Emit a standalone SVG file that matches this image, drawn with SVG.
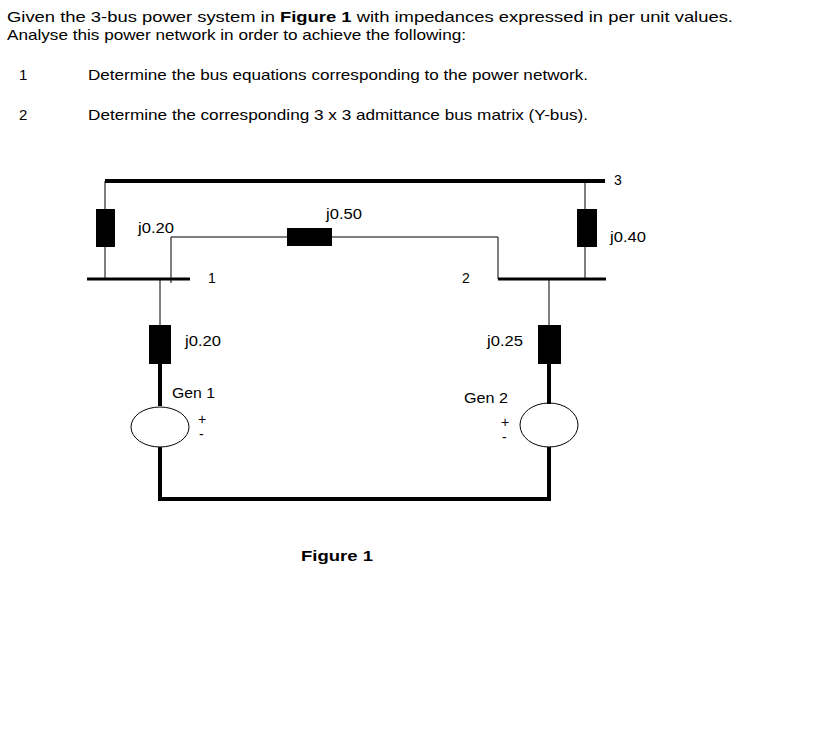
<svg xmlns="http://www.w3.org/2000/svg" width="813" height="738" viewBox="0 0 813 738">
<style>
text{font-family:"Liberation Sans",Arial,sans-serif;font-size:15px;fill:#000}
.s{font-size:14px}
.t{stroke:#000;stroke-width:1;fill:none}
.k{stroke:#000;stroke-width:4;fill:none}
.b{stroke:#000;stroke-width:3;fill:none}
.r{fill:#000}
</style>
<rect width="813" height="738" fill="#fff"/>
<text x="7" y="22" textLength="726" lengthAdjust="spacingAndGlyphs">Given the 3-bus power system in <tspan font-weight="bold">Figure 1</tspan> with impedances expressed in per unit values.</text>
<text x="7" y="40" textLength="459" lengthAdjust="spacingAndGlyphs">Analyse this power network in order to achieve the following:</text>
<text x="19" y="80">1</text><text x="88" y="80" textLength="500" lengthAdjust="spacingAndGlyphs">Determine the bus equations corresponding to the power network.</text>
<text x="19" y="120">2</text><text x="88" y="120" textLength="500" lengthAdjust="spacingAndGlyphs">Determine the corresponding 3 x 3 admittance bus matrix (Y-bus).</text>
<g id="connectors">
<path class="t" d="M105 181V279M585 181V279M171 283V237H498V279M160 279V325M549 279V325"/>
<path class="k" d="M160 364V406M160 447V499H549V447M549 364V404"/>
</g>
<g id="bus3"><path class="k" d="M105 181H605"/><text class="s" x="614" y="185">3</text></g>
<g id="bus1"><path class="b" d="M87 279H190"/><text class="s" x="208" y="283">1</text></g>
<g id="bus2"><path class="b" d="M498 279H606"/><text class="s" x="462" y="283">2</text></g>
<g id="z13"><rect class="r" x="96" y="209" width="19" height="38"/><text class="s" x="138" y="233" textLength="36" lengthAdjust="spacingAndGlyphs">j0.20</text></g>
<g id="z23"><rect class="r" x="577" y="209" width="20" height="38"/><text class="s" x="610" y="242" textLength="36" lengthAdjust="spacingAndGlyphs">j0.40</text></g>
<g id="z12"><rect class="r" x="287" y="228" width="45" height="18"/><text class="s" x="326" y="219" textLength="36" lengthAdjust="spacingAndGlyphs">j0.50</text></g>
<g id="zg1"><rect class="r" x="149" y="325" width="22" height="39"/><text class="s" x="185" y="346" textLength="36" lengthAdjust="spacingAndGlyphs">j0.20</text></g>
<g id="zg2"><rect class="r" x="538" y="325" width="23" height="39"/><text class="s" x="487" y="346" textLength="36" lengthAdjust="spacingAndGlyphs">j0.25</text></g>
<g id="gen1"><ellipse cx="160" cy="427" rx="29" ry="20" fill="none" stroke="#000"/><text class="s" x="172" y="398" textLength="43" lengthAdjust="spacingAndGlyphs">Gen 1</text><text class="s" x="198" y="424">+</text><text class="s" x="199" y="439">-</text></g>
<g id="gen2"><ellipse cx="549" cy="425" rx="29" ry="22" fill="none" stroke="#000"/><text class="s" x="464" y="403" textLength="44" lengthAdjust="spacingAndGlyphs">Gen 2</text><text class="s" x="501" y="427">+</text><text class="s" x="502" y="442">-</text></g>
<text x="301" y="561" font-weight="bold" font-size="16" textLength="72" lengthAdjust="spacingAndGlyphs">Figure 1</text>
</svg>
